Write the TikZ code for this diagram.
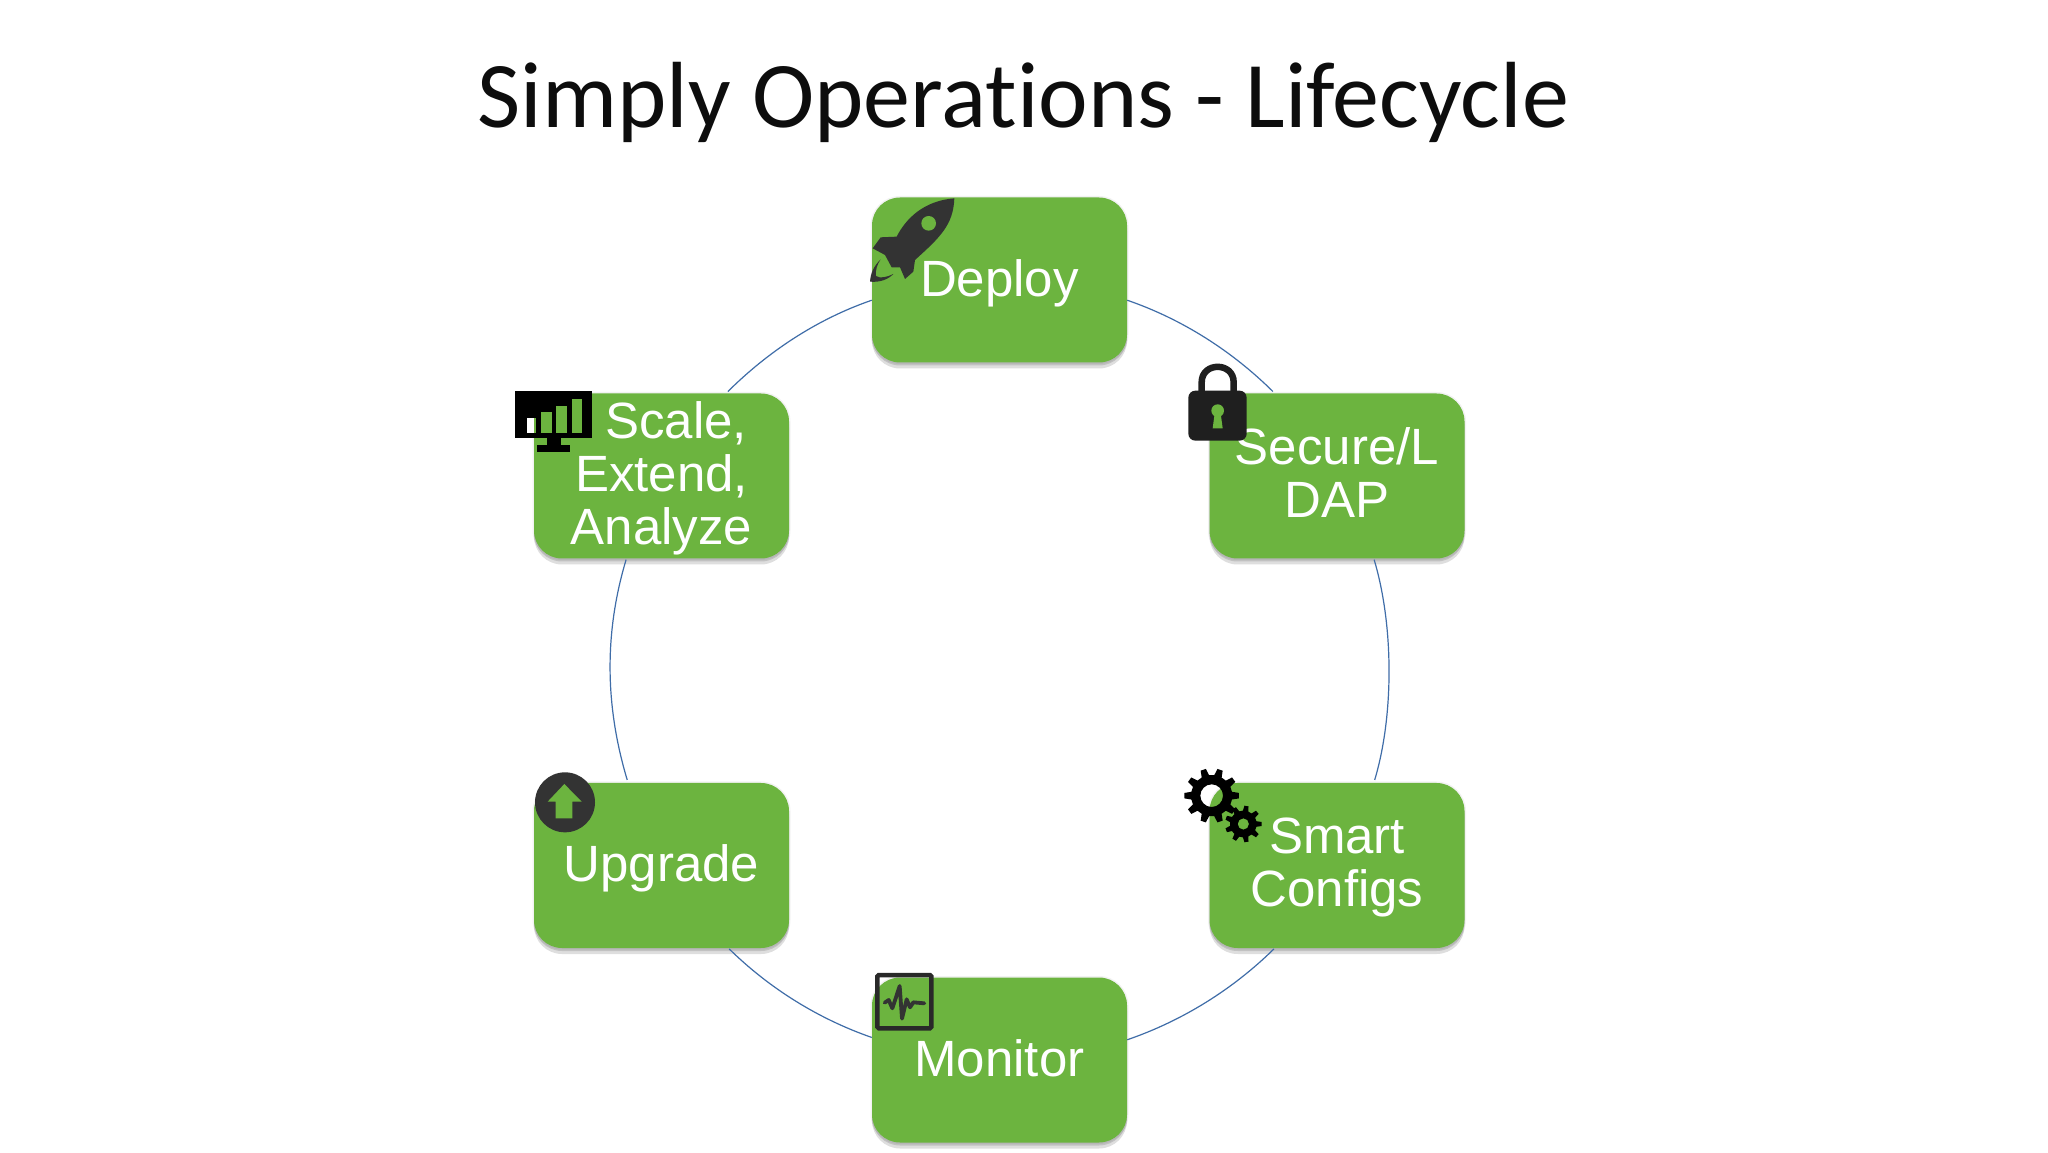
\documentclass[tikz,border=0pt]{standalone}
\usepackage{fontspec}
\setmainfont{Liberation Sans}
\newfontfamily\titlefont[Ligatures=NoCommon]{Carlito}
\definecolor{boxgreen}{HTML}{6CB43F}
\definecolor{linkblue}{HTML}{3F6DA8}
\definecolor{icondark}{HTML}{333333}
\tikzset{
  stagebox/.style={
    preaction={draw=black,line width=3pt,opacity=.05},
    preaction={fill=black,opacity=.13,transform canvas={yshift=-3pt}},
    preaction={fill=black,opacity=.13,transform canvas={yshift=-6pt}},
    fill=boxgreen,rounded corners=28pt,minimum width=255pt,minimum height=165pt,
    inner sep=0pt,text=white,font=\fontsize{51}{53}\selectfont},
  link/.style={draw=linkblue,line width=1.2pt,looseness=.865},
  zoomed/.style 2 args={x=.33333pt,y=-.33333pt,shift={(#1pt,1152pt-#2pt)}}
}
\newcommand{\stagetext}[2]{\raisebox{#1pt}[0pt][0pt]{\begin{tabular}[t]{@{}c@{}}#2\end{tabular}}}
\newcommand{\geartooth}[6]{% cx cy ro ri hole n
  \fill[black,even odd rule]
    ({#1+#4*cos(-360/#6*.30)},{#2+#4*sin(-360/#6*.30)})
    \foreach \k in {1,...,#6}{
      \pgfextra{\pgfmathsetmacro{\ang}{360/#6*(\k-1)}}
      -- ({#1+#4*cos(\ang-360/#6*.30)},{#2+#4*sin(\ang-360/#6*.30)})
      -- ({#1+#3*cos(\ang-360/#6*.16)},{#2+#3*sin(\ang-360/#6*.16)})
      -- ({#1+#3*cos(\ang+360/#6*.16)},{#2+#3*sin(\ang+360/#6*.16)})
      -- ({#1+#4*cos(\ang+360/#6*.30)},{#2+#4*sin(\ang+360/#6*.30)})
    } -- cycle
    (#1,#2) circle[radius=#5];
}
\begin{document}
\begin{tikzpicture}[x=1pt,y=1pt]
\useasboundingbox (0,0) rectangle (2048,1152);
\fill[white] (0,0) rectangle (2048,1152);

\node[font=\titlefont\fontsize{94}{100}\selectfont,text=black!95,anchor=base] (title) at (1023.5,1024) {Simply Operations - Lifecycle};

\node[stagebox] (deploy) at (999.5,872) {\stagetext{-17}{Deploy}};
\node[stagebox] (secure) at (1337,676) {\stagetext{11}{Secure/L\\DAP}};
\node[stagebox] (smart) at (1337,286.5) {\stagetext{11.5}{Smart\\Configs}};
\node[stagebox] (monitor) at (999.5,92) {\stagetext{-16}{Monitor}};
\node[stagebox] (upgrade) at (661.5,286.5) {\stagetext{-16.5}{Upgrade}};
\node[stagebox] (scale) at (661.5,676) {\stagetext{37.5}{\hspace*{29pt}Scale,\\Extend,\\Analyze}};

\draw[link,shorten >=2.5pt] (deploy.-9.7) to[out=-19,in=135.2] (secure.127);
\draw[link,looseness=.8,shorten >=3pt,shorten <=1pt] (secure.-66) to[out=-73.3,in=73.3] (smart.66.3);
\draw[link,shorten <=1pt] (smart.-127.6) to[out=-135.5,in=19] (monitor.9.7);
\draw[link,shorten >=1pt] (monitor.170.3) to[out=160.8,in=-44.5] (upgrade.-51.6);
\draw[link,looseness=.9,shorten <=3pt,shorten >=1pt] (upgrade.112.6) to[out=106.7,in=253.3] (scale.-113.1);
\draw[link,shorten <=2.5pt] (scale.52.4) to[out=44.8,in=199] (deploy.189.7);

% rocket
\begin{scope}[zoomed={850}{180}]
\fill[icondark] (313,55) .. controls (310,135) and (270,172) .. (195,240) -- (190,275) -- (165,297) -- (150,262) -- (125,262) -- (105,225) -- (68,205) -- (92,172) -- (140,170) .. controls (168,115) and (222,62) .. (313,55) -- cycle;
\fill[boxgreen] (236,130) circle[radius=22];
\fill[icondark] (92,238) .. controls (70,260) and (62,280) .. (60,305) .. controls (90,308) and (115,298) .. (130,282) .. controls (110,292) and (90,296) .. (78,288) .. controls (75,272) and (82,252) .. (92,238) -- cycle;
\end{scope}

% lock
\begin{scope}[zoomed={1170}{350}]
\draw[black!88,line width=6.5pt] (95,125) -- (95,97) .. controls (95,35) and (191,35) .. (191,97) -- (191,125);
\fill[black!88,rounded corners=7pt] (55,122) rectangle (230,272);
\fill[boxgreen] (143,182) circle[radius=19];
\fill[boxgreen] (134,190) -- (128,235) -- (158,235) -- (152,190) -- cycle;
\end{scope}

% dashboard monitor
\begin{scope}[zoomed={500}{380}]
\fill[black] (45,33) rectangle (277,173);
\fill[black] (140,173) rectangle (182,195);
\fill[black] (112,195) rectangle (210,217);
\fill[white] (80,115) rectangle (102,158);
\fill[boxgreen] (102,115) rectangle (107,158);
\fill[boxgreen] (122,97) rectangle (157,158);
\fill[boxgreen] (167,77) rectangle (200,158);
\fill[boxgreen] (215,57) rectangle (245,158);
\end{scope}

% gears
\begin{scope}[zoomed={1170}{760}]
\geartooth{125}{107}{82}{62}{34}{10}
\geartooth{220}{192}{55}{40}{17}{9}
\end{scope}

% pulse
\begin{scope}[zoomed={860}{960}]
\draw[icondark!80!black,line width=4.5pt,rounded corners=1.5pt] (52,45) rectangle (214,205);
\draw[icondark,line width=3.8pt,line join=round,line cap=round] (74,128) -- (86,120) -- (97,145) -- (106,118) -- (119,78) -- (126,176) -- (140,118) -- (150,142) -- (160,127) -- (193,130);
\end{scope}

% upgrade
\begin{scope}[zoomed={510}{760}]
\fill[icondark] (165,127) circle[radius=90];
\fill[boxgreen] (163,72) -- (215,125) -- (187,125) -- (187,175) -- (137,175) -- (137,125) -- (113,125) -- cycle;
\end{scope}
\end{tikzpicture}
\end{document}
